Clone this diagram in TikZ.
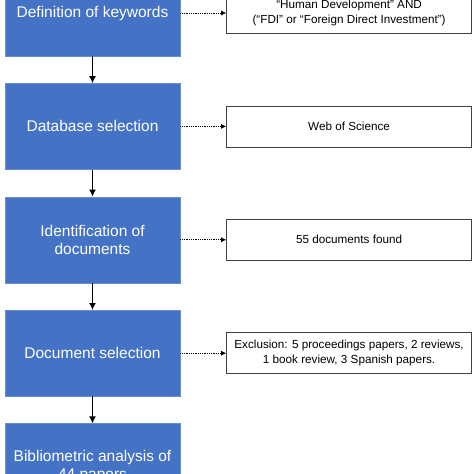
\documentclass[tikz,border=0pt]{standalone}
\usepackage{fontspec}
\setmainfont{Liberation Sans}
\usetikzlibrary{positioning,arrows.meta}
\definecolor{stepblue}{RGB}{68,114,196}

\begin{document}
\begin{tikzpicture}[x=1pt, y=-1pt, node distance=27pt and 46pt,
  stepbox/.style = {shape=rectangle, fill=stepblue, draw=stepblue!80!white,
    text=white, align=center, minimum width=175pt, minimum height=86pt,
    font=\fontsize{15.5}{18.5}\selectfont},
  notebox/.style = {shape=rectangle, draw=black!75, fill=white, line width=0.8pt,
    align=center, minimum width=245pt, minimum height=41pt,
    font=\fontsize{11.7}{14.5}\selectfont},
  flow/.style = {line width=1.8pt, -{Latex[length=7pt,width=7pt]}},
  note/.style = {densely dotted, line width=0.8pt, -{Latex[length=5pt,width=5pt]}}]
  \useasboundingbox (0,0) rectangle (474,474);
  \node[stepbox] (kw) at (92.5,13) {Definition of keywords};
  \node[stepbox, below=of kw] (db) {Database selection};
  \node[stepbox, below=of db] (id) {Identification of\\documents};
  \node[stepbox, below=of id] (sel) {Document selection};
  \node[stepbox, below=of sel] (ana) {Bibliometric analysis of\\44 papers};
  % side notes
  \node[notebox, right=of kw] (kwn) {``Human Development'' AND\\(``FDI'' or ``Foreign Direct Investment'')};
  \node[notebox, right=of db] (dbn) {Web of Science};
  \node[notebox, right=of id] (idn) {55 documents found};
  \node[notebox, right=of sel] (seln) {Exclusion: 5 proceedings papers, 2 reviews,\\1 book review, 3 Spanish papers.};
  \foreach \a/\b in {kw/db, db/id, id/sel, sel/ana}
    \draw[flow] (\a) -- (\b);
  \foreach \a in {kw, db, id, sel}
    \draw[note] (\a) -- (\a n);
\end{tikzpicture}
\end{document}
